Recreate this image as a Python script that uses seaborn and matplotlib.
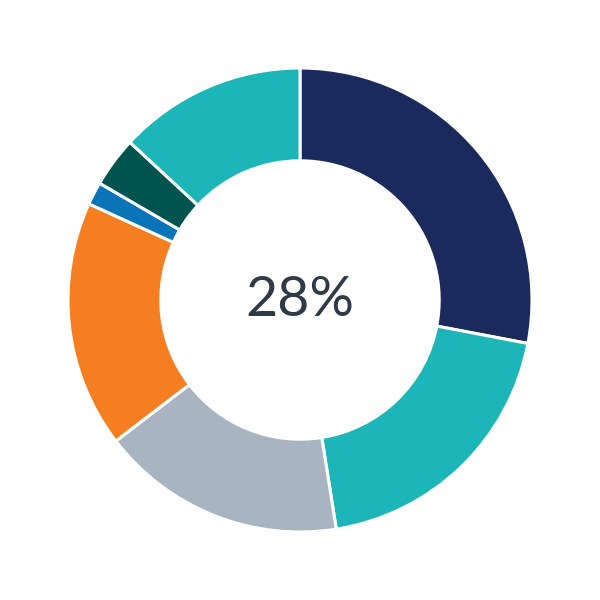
import matplotlib
matplotlib.use("Agg")
import matplotlib.pyplot as plt
import seaborn as sns

# slice values (percent), clockwise from 12 o'clock
labels = ["Navy", "Teal", "Gray", "Orange", "Blue", "Dark green", "Teal 2"]
values = [28.0, 19.5, 17.1, 17.2, 1.6, 3.5, 13.1]
colors = ["#1b2a5c", "#1cb5b8", "#a9b4c2", "#f47e20", "#0a74b9", "#00544f", "#1cb5b8"]
center_text = "28%"

sns.set_theme(style="white")
plt.rcParams["font.family"] = ["Lato", "DejaVu Sans"]

fig = plt.figure(figsize=(6, 6), dpi=100)
ax = fig.add_axes([0, 0, 1, 1])
ax.pie(values, colors=colors, startangle=90, counterclock=False, radius=1.0,
       wedgeprops=dict(width=0.4, edgecolor="white", linewidth=2.2))
ax.text(0, 0, center_text, ha="center", va="center", fontsize=40, color="#2d3a4a")
lim = 300 / 232
ax.set_xlim(-lim, lim)
ax.set_ylim(-lim, lim)
ax.set_aspect("equal")
ax.axis("off")

fig.savefig("out.png", dpi=100, facecolor="white")
